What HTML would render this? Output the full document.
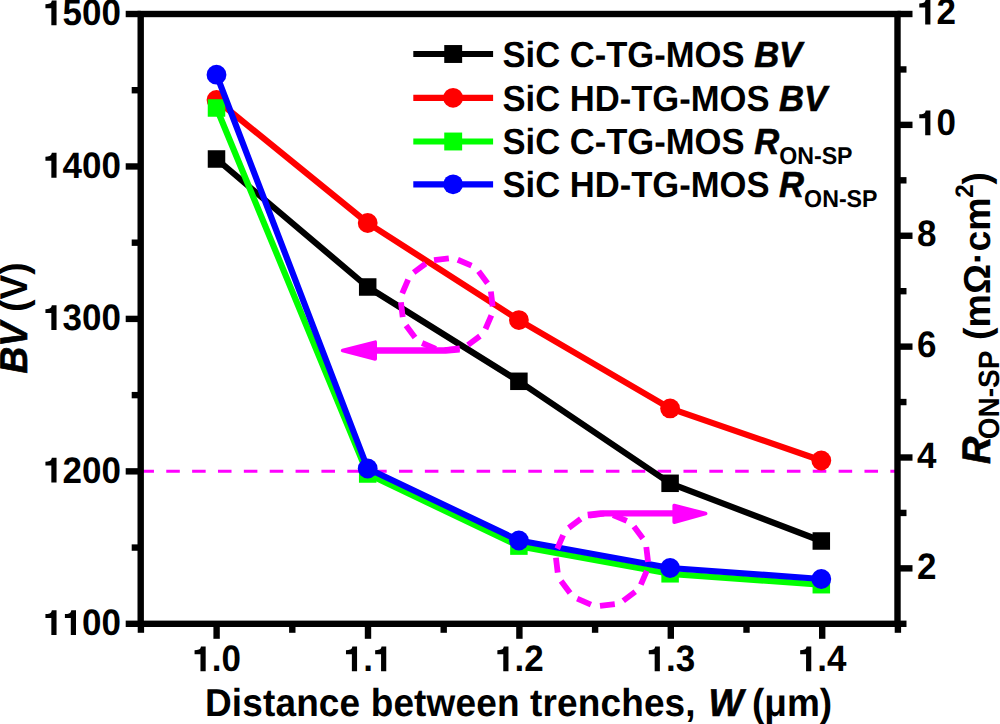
<!DOCTYPE html>
<html><head><meta charset="utf-8"><style>
html,body{margin:0;padding:0;background:#fff;}
svg{display:block;}
text{font-family:"Liberation Sans",sans-serif;font-weight:bold;fill:#000;text-rendering:geometricPrecision;}
.i{font-style:italic;stroke:#000;stroke-width:0.6px;}
</style></head><body>
<svg width="1000" height="724" viewBox="0 0 1000 724">
<rect width="1000" height="724" fill="#fff"/>
<line x1="140.4" y1="471.3" x2="897.5" y2="471.3" stroke="#ff00ff" stroke-width="3" stroke-dasharray="13.55 12.31"/>
<polyline points="216.5,159.0 367.7,287.0 518.9,381.3 670.1,483.3 821.3,541.0" fill="none" stroke="#000" stroke-width="6.2" stroke-linejoin="round"/>
<rect x="207.75" y="150.25" width="17.5" height="17.5" fill="#000"/><rect x="358.95" y="278.25" width="17.5" height="17.5" fill="#000"/><rect x="510.15" y="372.55" width="17.5" height="17.5" fill="#000"/><rect x="661.35" y="474.55" width="17.5" height="17.5" fill="#000"/><rect x="812.55" y="532.25" width="17.5" height="17.5" fill="#000"/>
<polyline points="216.5,100.0 367.7,223.0 518.9,320.1 670.1,408.4 821.3,460.5" fill="none" stroke="#ff0000" stroke-width="6.2" stroke-linejoin="round"/>
<circle cx="216.50" cy="100.00" r="9.9" fill="#ff0000"/><circle cx="367.70" cy="223.00" r="9.9" fill="#ff0000"/><circle cx="518.90" cy="320.10" r="9.9" fill="#ff0000"/><circle cx="670.10" cy="408.40" r="9.9" fill="#ff0000"/><circle cx="821.30" cy="460.50" r="9.9" fill="#ff0000"/>
<polyline points="216.5,108.0 367.7,474.0 518.9,546.1 670.1,573.8 821.3,584.7" fill="none" stroke="#00ff00" stroke-width="6.2" stroke-linejoin="round"/>
<rect x="207.75" y="99.25" width="17.5" height="17.5" fill="#00ff00"/><rect x="358.95" y="465.25" width="17.5" height="17.5" fill="#00ff00"/><rect x="510.15" y="537.35" width="17.5" height="17.5" fill="#00ff00"/><rect x="661.35" y="565.05" width="17.5" height="17.5" fill="#00ff00"/><rect x="812.55" y="575.95" width="17.5" height="17.5" fill="#00ff00"/>
<polyline points="216.5,74.7 367.7,468.5 518.9,540.5 670.1,568.0 821.3,579.0" fill="none" stroke="#0000ff" stroke-width="6.2" stroke-linejoin="round"/>
<circle cx="216.50" cy="74.70" r="9.9" fill="#0000ff"/><circle cx="367.70" cy="468.50" r="9.9" fill="#0000ff"/><circle cx="518.90" cy="540.50" r="9.9" fill="#0000ff"/><circle cx="670.10" cy="568.00" r="9.9" fill="#0000ff"/><circle cx="821.30" cy="579.00" r="9.9" fill="#0000ff"/>
<rect x="140.7" y="14.0" width="756.8" height="609.8" fill="none" stroke="#000" stroke-width="6.4"/>
<line x1="125.70" y1="623.80" x2="140.70" y2="623.80" stroke="#000" stroke-width="6.4"/>
<text transform="translate(121.00,635.00) scale(1,1.05)" font-size="35" text-anchor="end">  00</text><path transform="translate(43.14,635.00)" d="M8.2,0L13.4,0L13.4,-24.8L8.7,-24.8C8.3,-23 7.6,-22 6.5,-21.6C5.3,-21.1 4,-20.95 2.3,-20.9L2.3,-17L8.2,-17Z"/><path transform="translate(62.60,635.00)" d="M8.2,0L13.4,0L13.4,-24.8L8.7,-24.8C8.3,-23 7.6,-22 6.5,-21.6C5.3,-21.1 4,-20.95 2.3,-20.9L2.3,-17L8.2,-17Z"/>
<line x1="131.70" y1="547.57" x2="140.70" y2="547.57" stroke="#000" stroke-width="6.4"/>
<line x1="125.70" y1="471.35" x2="140.70" y2="471.35" stroke="#000" stroke-width="6.4"/>
<text transform="translate(121.00,482.55) scale(1,1.05)" font-size="35" text-anchor="end"> 200</text><path transform="translate(43.14,482.55)" d="M8.2,0L13.4,0L13.4,-24.8L8.7,-24.8C8.3,-23 7.6,-22 6.5,-21.6C5.3,-21.1 4,-20.95 2.3,-20.9L2.3,-17L8.2,-17Z"/>
<line x1="131.70" y1="395.12" x2="140.70" y2="395.12" stroke="#000" stroke-width="6.4"/>
<line x1="125.70" y1="318.90" x2="140.70" y2="318.90" stroke="#000" stroke-width="6.4"/>
<text transform="translate(121.00,330.10) scale(1,1.05)" font-size="35" text-anchor="end"> 300</text><path transform="translate(43.14,330.10)" d="M8.2,0L13.4,0L13.4,-24.8L8.7,-24.8C8.3,-23 7.6,-22 6.5,-21.6C5.3,-21.1 4,-20.95 2.3,-20.9L2.3,-17L8.2,-17Z"/>
<line x1="131.70" y1="242.68" x2="140.70" y2="242.68" stroke="#000" stroke-width="6.4"/>
<line x1="125.70" y1="166.45" x2="140.70" y2="166.45" stroke="#000" stroke-width="6.4"/>
<text transform="translate(121.00,177.65) scale(1,1.05)" font-size="35" text-anchor="end"> 400</text><path transform="translate(43.14,177.65)" d="M8.2,0L13.4,0L13.4,-24.8L8.7,-24.8C8.3,-23 7.6,-22 6.5,-21.6C5.3,-21.1 4,-20.95 2.3,-20.9L2.3,-17L8.2,-17Z"/>
<line x1="131.70" y1="90.22" x2="140.70" y2="90.22" stroke="#000" stroke-width="6.4"/>
<line x1="125.70" y1="14.00" x2="140.70" y2="14.00" stroke="#000" stroke-width="6.4"/>
<text transform="translate(121.00,25.20) scale(1,1.05)" font-size="35" text-anchor="end"> 500</text><path transform="translate(43.14,25.20)" d="M8.2,0L13.4,0L13.4,-24.8L8.7,-24.8C8.3,-23 7.6,-22 6.5,-21.6C5.3,-21.1 4,-20.95 2.3,-20.9L2.3,-17L8.2,-17Z"/>
<line x1="897.50" y1="623.80" x2="906.50" y2="623.80" stroke="#000" stroke-width="6.4"/>
<line x1="897.50" y1="568.36" x2="912.50" y2="568.36" stroke="#000" stroke-width="6.4"/>
<text transform="translate(917.00,578.76) scale(1,1.05)" font-size="35">2</text>
<line x1="897.50" y1="512.93" x2="906.50" y2="512.93" stroke="#000" stroke-width="6.4"/>
<line x1="897.50" y1="457.49" x2="912.50" y2="457.49" stroke="#000" stroke-width="6.4"/>
<text transform="translate(917.00,467.89) scale(1,1.05)" font-size="35">4</text>
<line x1="897.50" y1="402.05" x2="906.50" y2="402.05" stroke="#000" stroke-width="6.4"/>
<line x1="897.50" y1="346.62" x2="912.50" y2="346.62" stroke="#000" stroke-width="6.4"/>
<text transform="translate(917.00,357.02) scale(1,1.05)" font-size="35">6</text>
<line x1="897.50" y1="291.18" x2="906.50" y2="291.18" stroke="#000" stroke-width="6.4"/>
<line x1="897.50" y1="235.75" x2="912.50" y2="235.75" stroke="#000" stroke-width="6.4"/>
<text transform="translate(917.00,246.15) scale(1,1.05)" font-size="35">8</text>
<line x1="897.50" y1="180.31" x2="906.50" y2="180.31" stroke="#000" stroke-width="6.4"/>
<line x1="897.50" y1="124.87" x2="912.50" y2="124.87" stroke="#000" stroke-width="6.4"/>
<text transform="translate(917.00,135.27) scale(1,1.05)" font-size="35"> 0</text><path transform="translate(917.00,135.27)" d="M8.2,0L13.4,0L13.4,-24.8L8.7,-24.8C8.3,-23 7.6,-22 6.5,-21.6C5.3,-21.1 4,-20.95 2.3,-20.9L2.3,-17L8.2,-17Z"/>
<line x1="897.50" y1="69.44" x2="906.50" y2="69.44" stroke="#000" stroke-width="6.4"/>
<line x1="897.50" y1="14.00" x2="912.50" y2="14.00" stroke="#000" stroke-width="6.4"/>
<text transform="translate(917.00,24.40) scale(1,1.05)" font-size="35"> 2</text><path transform="translate(917.00,24.40)" d="M8.2,0L13.4,0L13.4,-24.8L8.7,-24.8C8.3,-23 7.6,-22 6.5,-21.6C5.3,-21.1 4,-20.95 2.3,-20.9L2.3,-17L8.2,-17Z"/>
<line x1="140.90" y1="623.80" x2="140.90" y2="632.80" stroke="#000" stroke-width="6.4"/>
<line x1="216.60" y1="623.80" x2="216.60" y2="638.80" stroke="#000" stroke-width="6.4"/>
<text transform="translate(216.60,671.20) scale(1,1.05)" font-size="35" text-anchor="middle"> .0</text><path transform="translate(192.27,671.20)" d="M8.2,0L13.4,0L13.4,-24.8L8.7,-24.8C8.3,-23 7.6,-22 6.5,-21.6C5.3,-21.1 4,-20.95 2.3,-20.9L2.3,-17L8.2,-17Z"/>
<line x1="292.30" y1="623.80" x2="292.30" y2="632.80" stroke="#000" stroke-width="6.4"/>
<line x1="368.00" y1="623.80" x2="368.00" y2="638.80" stroke="#000" stroke-width="6.4"/>
<text transform="translate(368.00,671.20) scale(1,1.05)" font-size="35" text-anchor="middle"> . </text><path transform="translate(343.67,671.20)" d="M8.2,0L13.4,0L13.4,-24.8L8.7,-24.8C8.3,-23 7.6,-22 6.5,-21.6C5.3,-21.1 4,-20.95 2.3,-20.9L2.3,-17L8.2,-17Z"/><path transform="translate(372.86,671.20)" d="M8.2,0L13.4,0L13.4,-24.8L8.7,-24.8C8.3,-23 7.6,-22 6.5,-21.6C5.3,-21.1 4,-20.95 2.3,-20.9L2.3,-17L8.2,-17Z"/>
<line x1="443.70" y1="623.80" x2="443.70" y2="632.80" stroke="#000" stroke-width="6.4"/>
<line x1="519.40" y1="623.80" x2="519.40" y2="638.80" stroke="#000" stroke-width="6.4"/>
<text transform="translate(519.40,671.20) scale(1,1.05)" font-size="35" text-anchor="middle"> .2</text><path transform="translate(495.07,671.20)" d="M8.2,0L13.4,0L13.4,-24.8L8.7,-24.8C8.3,-23 7.6,-22 6.5,-21.6C5.3,-21.1 4,-20.95 2.3,-20.9L2.3,-17L8.2,-17Z"/>
<line x1="595.10" y1="623.80" x2="595.10" y2="632.80" stroke="#000" stroke-width="6.4"/>
<line x1="670.80" y1="623.80" x2="670.80" y2="638.80" stroke="#000" stroke-width="6.4"/>
<text transform="translate(670.80,671.20) scale(1,1.05)" font-size="35" text-anchor="middle"> .3</text><path transform="translate(646.47,671.20)" d="M8.2,0L13.4,0L13.4,-24.8L8.7,-24.8C8.3,-23 7.6,-22 6.5,-21.6C5.3,-21.1 4,-20.95 2.3,-20.9L2.3,-17L8.2,-17Z"/>
<line x1="746.50" y1="623.80" x2="746.50" y2="632.80" stroke="#000" stroke-width="6.4"/>
<line x1="822.20" y1="623.80" x2="822.20" y2="638.80" stroke="#000" stroke-width="6.4"/>
<text transform="translate(822.20,671.20) scale(1,1.05)" font-size="35" text-anchor="middle"> .4</text><path transform="translate(797.87,671.20)" d="M8.2,0L13.4,0L13.4,-24.8L8.7,-24.8C8.3,-23 7.6,-22 6.5,-21.6C5.3,-21.1 4,-20.95 2.3,-20.9L2.3,-17L8.2,-17Z"/>
<line x1="897.90" y1="623.80" x2="897.90" y2="632.80" stroke="#000" stroke-width="6.4"/>
<line x1="413.3" y1="54" x2="493.1" y2="54" stroke="#000" stroke-width="6.2"/>
<rect x="444.25" y="45.05" width="17.9" height="17.9" fill="#000"/>
<text transform="translate(502.50,66.70) scale(1,1.05)" font-size="34.6">SiC C-TG-MOS <tspan class="i">BV</tspan></text>
<line x1="413.3" y1="97.8" x2="493.1" y2="97.8" stroke="#ff0000" stroke-width="6.2"/>
<circle cx="453.1" cy="97.8" r="9.9" fill="#ff0000"/>
<text transform="translate(502.50,110.50) scale(1,1.05)" font-size="34.6">SiC HD-TG-MOS <tspan class="i">BV</tspan></text>
<line x1="413.3" y1="141.5" x2="493.1" y2="141.5" stroke="#00ff00" stroke-width="6.2"/>
<rect x="444.25" y="132.55" width="17.9" height="17.9" fill="#00ff00"/>
<text transform="translate(502.50,154.20) scale(1,1.05)" font-size="34.6">SiC C-TG-MOS <tspan class="i">R</tspan><tspan font-size="23.2" dy="9.3">ON-SP</tspan></text>
<line x1="413.3" y1="184.3" x2="493.1" y2="184.3" stroke="#0000ff" stroke-width="6.2"/>
<circle cx="453.1" cy="184.3" r="9.9" fill="#0000ff"/>
<text transform="translate(502.50,197.00) scale(1,1.05)" font-size="34.6">SiC HD-TG-MOS <tspan class="i">R</tspan><tspan font-size="23.2" dy="9.3">ON-SP</tspan></text>
<path d="M490.89,291.52L492.65,306.35M491.37,315.28L485.48,329.00M479.91,336.09L467.95,345.04M459.58,348.39L444.75,350.15M435.82,348.87L422.10,342.98M415.01,337.41L406.06,325.45M402.71,317.08L400.95,302.25M402.23,293.32L408.12,279.60M413.69,272.51L425.65,263.56M434.02,260.21L448.85,258.45M457.78,259.73L471.50,265.62M478.59,271.19L487.54,283.15" stroke="#ff00ff" stroke-width="5.8" fill="none"/>
<path d="M646.29,547.00L648.06,561.83M646.75,570.86L640.87,584.58M635.23,591.75L623.27,600.70M614.80,604.09L599.97,605.86M590.94,604.55L577.22,598.67M570.05,593.03L561.10,581.07M557.71,572.60L555.94,557.77M557.25,548.74L563.13,535.02M568.77,527.85L580.73,518.90M589.20,515.51L604.03,513.74M613.06,515.05L626.78,520.93M633.95,526.57L642.90,538.53" stroke="#ff00ff" stroke-width="5.8" fill="none"/>
<path d="M459.6,349.3 L445.6,350.5 L372,350.5" stroke="#ff00ff" stroke-width="6.4" fill="none" stroke-linejoin="round"/>
<path d="M342.6,350.5 L375.2,342.2 L375.2,358.9 Z" fill="#ff00ff" stroke="#ff00ff" stroke-width="3.6" stroke-linejoin="round"/>
<path d="M587.7,515 L601,513.4 L677,513.4" stroke="#ff00ff" stroke-width="6.4" fill="none" stroke-linejoin="round"/>
<path d="M705.6,513.6 L674.2,505.5 L674.2,522.3 Z" fill="#ff00ff" stroke="#ff00ff" stroke-width="3.6" stroke-linejoin="round"/>
<text transform="translate(205.00,716.40) scale(1,1.05)" font-size="37" letter-spacing="0.13">Distance between trenches,</text>
<text transform="translate(708.50,716.40) scale(1,1.05)" font-size="37"><tspan class="i">W</tspan></text>
<text transform="translate(752.00,716.40) scale(1,1.05)" font-size="37">(μm)</text>
<text transform="translate(27.30,318.00) rotate(-90) scale(1,1.05)" font-size="37" text-anchor="middle"><tspan class="i">BV</tspan> (V)</text>
<text transform="translate(990.20,464.00) rotate(-90) scale(1,1.05)" font-size="38"><tspan class="i">R</tspan></text>
<text transform="translate(999.00,439.20) rotate(-90) scale(1,1.05)" font-size="28">ON-SP</text>
<text transform="translate(989.70,339.90) rotate(-90)" font-size="37.5">(mΩ·cm</text>
<text transform="translate(972.90,197.70) rotate(-90) scale(1,1.05)" font-size="24">2</text>
<text transform="translate(988.50,184.50) rotate(-90)" font-size="37.5">)</text>
</svg>
</body></html>
